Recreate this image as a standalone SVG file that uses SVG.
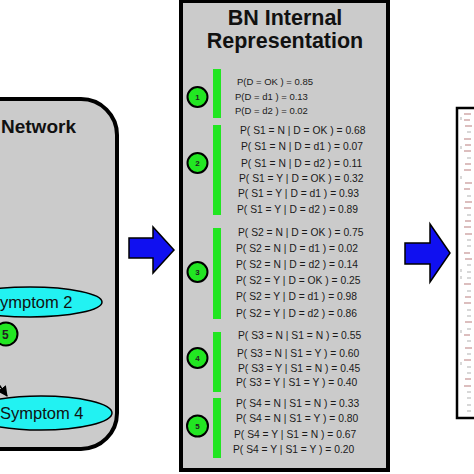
<svg xmlns="http://www.w3.org/2000/svg" width="474" height="474" viewBox="0 0 474 474">
<defs>
<style>
.panel{fill:#cbcbcb;stroke:#000;stroke-width:4}
.ell{fill:#22f2f2;stroke:#000;stroke-width:1.5}
.lbl{font-family:"Liberation Sans",Arial,sans-serif;font-size:16.5px;fill:#111}
.title{font-family:"Liberation Sans",Arial,sans-serif;font-size:21.5px;font-weight:bold;fill:#111;text-anchor:middle}
.bar{fill:#22e622}
.num{fill:#22e622;stroke:#000;stroke-width:2}
.numt{font-family:"Liberation Sans",Arial,sans-serif;font-size:8px;font-weight:bold;fill:#222;text-anchor:middle}
.p1{font-family:"Liberation Sans",Arial,sans-serif;font-size:9.5px;fill:#1a1a1a}
.p{font-family:"Liberation Sans",Arial,sans-serif;font-size:10.3px;fill:#1a1a1a}
.big{fill:#1010f0;stroke:#000;stroke-width:1.5;stroke-linejoin:miter}
.doc{fill:#fff;stroke:#000;stroke-width:2.5}
.mk{stroke:#8b2a2a;stroke-width:1.2;opacity:0.6}
.mk2{stroke:#666;stroke-width:1;opacity:0.5}
</style>
<marker id="ah" viewBox="0 0 10 10" refX="9" refY="5" markerWidth="7" markerHeight="7" orient="auto">
<path d="M0,0 L10,5 L0,10 z" fill="#000"/>
</marker>
</defs>
<rect x="0" y="0" width="474" height="474" fill="#fff"/>

<g id="bn-panel">
<rect class="panel" x="-60" y="99" width="177" height="350" rx="36" ry="36"/>
<text x="1" y="133" font-family="Liberation Sans, Arial, sans-serif" font-size="19" font-weight="bold" fill="#111">Network</text>
</g>

<g id="node-symptom2">
<ellipse class="ell" cx="30" cy="302" rx="72" ry="15"/>
<text class="lbl" x="-11" y="308">Symptom 2</text>
</g>

<g id="node-5">
<circle class="num" cx="6" cy="334" r="11.5"/>
<text x="2" y="339" font-family="Liberation Sans, Arial, sans-serif" font-size="12" font-weight="bold" fill="#222">5</text>
</g>

<g id="node-symptom4">
<ellipse class="ell" cx="41" cy="413" rx="71" ry="17"/>
<text class="lbl" x="0" y="419">Symptom 4</text>
</g>

<g id="connectors">
<line x1="-14" y1="366" x2="7" y2="396" stroke="#000" stroke-width="1.5" marker-end="url(#ah)"/>
<path class="big" d="M129,238 L153,238 L153,227 L174,250 L153,273 L153,258 L129,258 Z"/>
<path class="big" d="M405,243 L430,243 L430,224 L450,253 L430,282 L430,264 L405,264 Z"/>
</g>

<g id="cpt-panel">
<rect class="panel" x="181" y="1" width="207" height="469"/>
<text class="title" x="285" y="25">BN Internal</text>
<text class="title" x="285" y="48">Representation</text>
</g>

<g id="cpt-1">
<rect class="bar" x="213" y="69" width="8" height="49"/>
<circle class="num" cx="197.5" cy="97" r="10"/>
<text class="numt" x="197.5" y="100">1</text>
<text class="p1" x="237" y="84.5">P(D = OK ) = 0.85</text>
<text class="p1" x="235" y="99.5">P(D = d1 ) = 0.13</text>
<text class="p1" x="235" y="114">P(D = d2 ) = 0.02</text>
</g>

<g id="cpt-2">
<rect class="bar" x="213" y="125" width="8" height="90"/>
<circle class="num" cx="197.5" cy="163" r="10"/>
<text class="numt" x="197.5" y="166">2</text>
<text class="p" x="240" y="133.5">P( S1 = N | D = OK ) = 0.68</text>
<text class="p" x="241" y="149.5">P( S1 = N | D = d1 ) = 0.07</text>
<text class="p" x="241" y="166.5">P( S1 = N | D = d2 ) = 0.11</text>
<text class="p" x="239" y="181.5">P( S1 = Y | D = OK ) = 0.32</text>
<text class="p" x="238" y="196.5">P( S1 = Y | D = d1 ) = 0.93</text>
<text class="p" x="237" y="212.5">P( S1 = Y | D = d2 ) = 0.89</text>
</g>

<g id="cpt-3">
<rect class="bar" x="213" y="228" width="8" height="91"/>
<circle class="num" cx="197.5" cy="272" r="10"/>
<text class="numt" x="197.5" y="275">3</text>
<text class="p" x="238" y="235.5">P( S2 = N | D = OK ) = 0.75</text>
<text class="p" x="236" y="251.5">P( S2 = N | D = d1 ) = 0.02</text>
<text class="p" x="236" y="267.5">P( S2 = N | D = d2 ) = 0.14</text>
<text class="p" x="236" y="283.5">P( S2 = Y | D = OK ) = 0.25</text>
<text class="p" x="236" y="299.5">P( S2 = Y | D = d1 ) = 0.98</text>
<text class="p" x="236" y="316.5">P( S2 = Y | D = d2 ) = 0.86</text>
</g>

<g id="cpt-4">
<rect class="bar" x="213" y="332" width="8" height="60"/>
<circle class="num" cx="197.5" cy="358" r="10"/>
<text class="numt" x="197.5" y="361">4</text>
<text class="p" x="238" y="338.5">P( S3 = N | S1 = N ) = 0.55</text>
<text class="p" x="237" y="356.5">P( S3 = N | S1 = Y ) = 0.60</text>
<text class="p" x="238" y="371.5">P( S3 = Y | S1 = N ) = 0.45</text>
<text class="p" x="236" y="385.5">P( S3 = Y | S1 = Y ) = 0.40</text>
</g>

<g id="cpt-5">
<rect class="bar" x="213" y="398" width="8" height="60"/>
<circle class="num" cx="197.5" cy="426" r="10.5"/>
<text class="numt" x="197.5" y="429">5</text>
<text class="p" x="236" y="406.5">P( S4 = N | S1 = N ) = 0.33</text>
<text class="p" x="236" y="421.5">P( S4 = N | S1 = Y ) = 0.80</text>
<text class="p" x="234" y="437.5">P( S4 = Y | S1 = N ) = 0.67</text>
<text class="p" x="233" y="452.5">P( S4 = Y | S1 = Y ) = 0.20</text>
</g>

<g id="output-doc">
<rect class="doc" x="457" y="108" width="30" height="310"/>
<path class="mk" d="M464,114h7M464,120h6M465,126h7M464,139h7M465,145h6M464,151h7M465,164h6M464,170h7M465,183h7M464,189h6M465,202h7M464,208h7M465,221h6M464,227h7M465,234h7M464,253h6M465,259h7M464,284h7M465,297h6M464,303h7M465,322h7M464,335h6M465,348h7M464,360h7M465,379h6M464,386h7"/>
<path class="mk2" d="M461,117v3M461,146v3M461,176v3M461,269v3M461,276v3M461,330v3M461,362v3M467,132h4M467,158h4M467,196h4M467,215h4M467,240h4M467,246h4M467,265h4M467,272h4M467,278h4M467,291h4M467,310h4M467,316h4M467,329h4M467,341h4M467,354h4M467,367h4M467,373h4M467,392h4M467,398h4M467,405h4M467,411h4"/>
</g>
</svg>
